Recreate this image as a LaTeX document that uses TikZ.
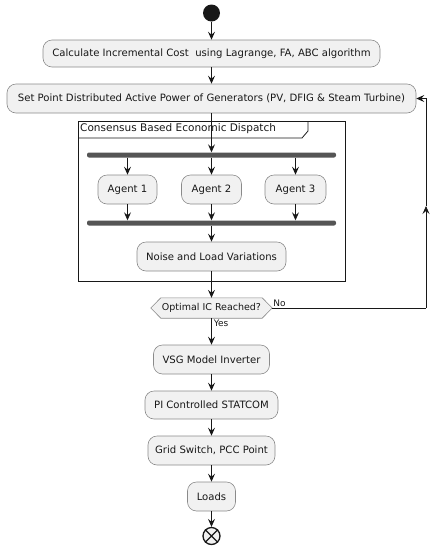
\documentclass[tikz,border=0pt]{standalone}
\usepackage{fontspec}
\setmainfont{DejaVu Sans}
\usetikzlibrary{arrows.meta,backgrounds}
\definecolor{actfill}{HTML}{F1F1F1}
\definecolor{actline}{HTML}{8A8A8A}
\definecolor{barcol}{HTML}{555555}
\definecolor{ink}{HTML}{181818}
\begin{document}
\begin{tikzpicture}[x=1pt,y=-1pt,
  act/.style={draw=actline, fill=actfill, rounded corners=9pt, line width=0.6pt, inner sep=0pt, font=\fontsize{10.1}{12}\selectfont, text=ink},
  forkbar/.style={fill=barcol, draw=none, rounded corners=2pt, minimum height=5pt, inner sep=0pt},
  arr/.style={-{Stealth[length=8pt,width=7pt,inset=3pt]}, line width=0.8pt, draw=ink},
  plain/.style={line width=0.8pt, draw=ink},
  lbl/.style={font=\fontsize{9}{10}\selectfont, text=ink, inner sep=1pt}]
\useasboundingbox (0,0) rectangle (434,550);
% start
\node[circle, fill=ink, minimum size=17pt, inner sep=0pt] (start) at (211.5,13) {};
\node[act, minimum width=337pt, minimum height=27pt] (b1) at (211.5,53.5) {Calculate Incremental Cost\ \ using Lagrange, FA, ABC algorithm};
\node[act, minimum width=409pt, minimum height=29pt] (b2) at (211.5,98.5) {Set Point Distributed Active Power of Generators (PV, DFIG \& Steam Turbine)};
% frame
\draw[line width=1pt, draw=ink] (78,121) rectangle (345,281);
\draw[line width=0.8pt, draw=ink] (78,138) -- (302,138) -- (308,131) -- (308,121);
\node[anchor=north west, inner sep=0pt, font=\fontsize{10.5}{12}\selectfont, text=ink] (ftitle) at (80,123) {Consensus Based Economic Dispatch};
% fork
\node[forkbar, minimum width=249pt] (f1) at (211.5,155) {};
\node[act, minimum width=59pt, minimum height=29pt] (a1) at (127.5,189.5) {Agent 1};
\node[act, minimum width=60pt, minimum height=29pt] (a2) at (211.5,189.5) {Agent 2};
\node[act, minimum width=61pt, minimum height=29pt] (a3) at (295.5,189.5) {Agent 3};
\node[forkbar, minimum width=249pt] (f2) at (211.5,223) {};
\node[act, minimum width=149pt, minimum height=29pt] (nz) at (211.5,256.5) {Noise and Load Variations};
% decision
\node[inner sep=0pt, minimum width=121pt, minimum height=20pt, font=\fontsize{9.5}{11}\selectfont, text=ink] (dec) at (211.5,308) {Optimal IC Reached?};
\begin{scope}[on background layer]
\draw[actline, fill=actfill, line width=0.6pt] (dec.west) -- ([xshift=10pt]dec.north west) -- ([xshift=-10pt]dec.north east) -- (dec.east) -- ([xshift=-10pt]dec.south east) -- ([xshift=10pt]dec.south west) -- cycle;
\end{scope}
\node[act, minimum width=116pt, minimum height=29pt] (vsg) at (211.5,359.5) {VSG Model Inverter};
\node[act, minimum width=133pt, minimum height=28pt] (pi) at (211.5,405) {PI Controlled STATCOM};
\node[act, minimum width=127pt, minimum height=29pt] (grid) at (211.5,450.5) {Grid Switch, PCC Point};
\node[act, minimum width=48pt, minimum height=29pt] (loads) at (211.5,496.5) {Loads};
\node[circle, draw=ink, fill=actfill, line width=1.3pt, minimum size=17pt, inner sep=0pt] (stop) at (211.5,536) {};
\draw[ink, line width=1.3pt] (stop.north east) -- (stop.south west) (stop.north west) -- (stop.south east);
% connectors
\draw[arr] (start) -- (b1);
\draw[arr] (b1) -- (b2);
\draw[arr] (b2) -- (f1.north);
\draw[arr] (f1.south -| a1) -- (a1);
\draw[arr] (f1.south) -- (a2);
\draw[arr] (f1.south -| a3) -- (a3);
\draw[arr] (a1) -- (f2.north -| a1);
\draw[arr] (a2) -- (f2.north);
\draw[arr] (a3) -- (f2.north -| a3);
\draw[arr] (f2.south) -- (nz);
\draw[arr] (nz) -- (dec.north);
\draw[arr] (dec.south) -- node[lbl, anchor=north west, pos=0.02, xshift=1pt] (yes) {Yes} (vsg);
\coordinate (lpA) at (426,308);
\coordinate (lpM) at (426,206);
\coordinate (lpB) at (426,98.5);
\draw[plain] (dec.east) -- (lpA);
\draw[arr] (lpA) -- (lpM);
\draw[arr] (lpM) -- (lpB) -- (b2.east);
\node[lbl, anchor=south west] (no) at (dec.east) {No};
\draw[arr] (vsg) -- (pi);
\draw[arr] (pi) -- (grid);
\draw[arr] (grid) -- (loads);
\draw[arr] (loads) -- (stop);
\end{tikzpicture}
\end{document}
